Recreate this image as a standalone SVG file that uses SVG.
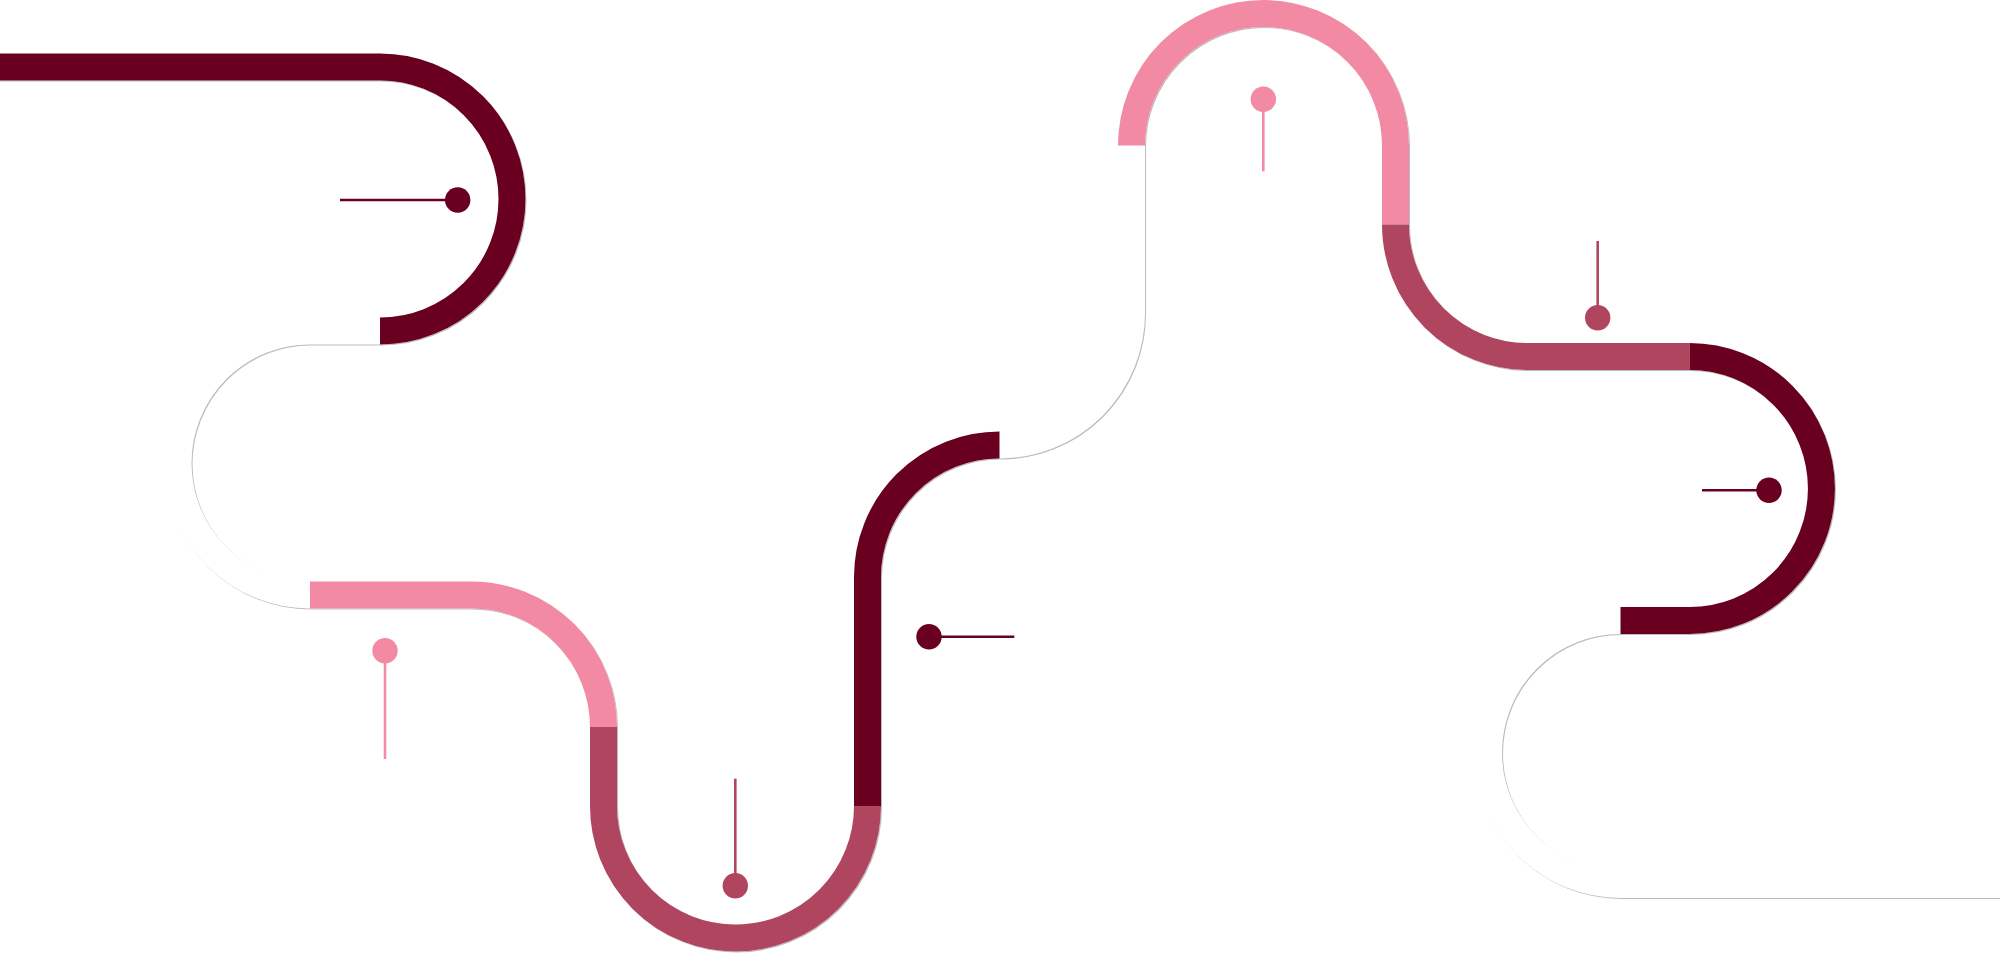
<svg xmlns="http://www.w3.org/2000/svg" width="2000" height="953" viewBox="0 0 2000 953">
  <defs>
    <style>
      .shadow { fill: none; stroke: #bcbcbc; stroke-width: 27; }
      .base { fill: none; stroke: #ffffff; stroke-width: 27; }
      .band { fill: none; stroke-width: 27; stroke-linecap: butt; }
      .dark { stroke: #6a0020; }
      .pink { stroke: #f28aa3; }
      .mauve { stroke: #b04560; }
      .stem { stroke-width: 2.6; fill: none; }
      .dot-dark { fill: #6a0020; }
      .dot-pink { fill: #f28aa3; }
      .dot-mauve { fill: #b04560; }
    </style>
    <path id="track" d="M-5,67 H380 A132,132 0 0 1 380,331 H310 A132,132 0 0 0 310,595 H471.5 A132,132 0 0 1 603.5,727 V806 A132,132 0 0 0 867.5,806 V577 A132,132 0 0 1 999.5,445 A132,132 0 0 0 1131.5,313 V145.5 A132,132 0 0 1 1395.5,145.5 V224.5 A132,132 0 0 0 1527.5,356.5 H1689.5 A132,132 0 0 1 1689.5,620.5 H1620.5 A132,132 0 0 0 1620.5,884.5 H2010"/>
  </defs>

  <g id="connectors">
    <use href="#track" class="shadow" transform="translate(1,1)"/>
    <use href="#track" class="base"/>
    <path class="band dark" d="M-5,67 H380 A132,132 0 0 1 380,331"/>
    <path class="band pink" d="M310,595 H471.5 A132,132 0 0 1 603.5,727"/>
    <path class="band mauve" d="M603.5,727 V806 A132,132 0 0 0 867.5,806"/>
    <path class="band dark" d="M867.5,806 V577 A132,132 0 0 1 999.5,445"/>
    <path class="band pink" d="M1131.5,145.5 A132,132 0 0 1 1395.5,145.5 V224.5"/>
    <path class="band mauve" d="M1395.5,224.5 A132,132 0 0 0 1527.5,356.5 H1689.5"/>
    <path class="band dark" d="M1689.5,356.5 A132,132 0 0 1 1689.5,620.5 H1620.5"/>
  </g>

  <g id="pin1">
    <line class="stem" stroke="#6a0020" x1="340" y1="200" x2="457.7" y2="200"/>
    <circle class="dot-dark" cx="457.7" cy="200" r="12.7"/>
  </g>
  <g id="pin2">
    <line class="stem" stroke="#f28aa3" x1="385" y1="650.7" x2="385" y2="759"/>
    <circle class="dot-pink" cx="385" cy="650.7" r="12.7"/>
  </g>
  <g id="pin3">
    <line class="stem" stroke="#b04560" x1="735.3" y1="778.7" x2="735.3" y2="885.7"/>
    <circle class="dot-mauve" cx="735.3" cy="885.7" r="12.7"/>
  </g>
  <g id="pin4">
    <line class="stem" stroke="#6a0020" x1="929" y1="636.7" x2="1014.3" y2="636.7"/>
    <circle class="dot-dark" cx="929" cy="636.7" r="12.7"/>
  </g>
  <g id="pin5">
    <line class="stem" stroke="#f28aa3" x1="1263.3" y1="99.3" x2="1263.3" y2="171.3"/>
    <circle class="dot-pink" cx="1263.3" cy="99.3" r="12.7"/>
  </g>
  <g id="pin6">
    <line class="stem" stroke="#b04560" x1="1597.7" y1="241" x2="1597.7" y2="317.7"/>
    <circle class="dot-mauve" cx="1597.7" cy="317.7" r="12.7"/>
  </g>
  <g id="pin7">
    <line class="stem" stroke="#6a0020" x1="1702" y1="490.3" x2="1769" y2="490.3"/>
    <circle class="dot-dark" cx="1769" cy="490.3" r="12.7"/>
  </g>
</svg>
